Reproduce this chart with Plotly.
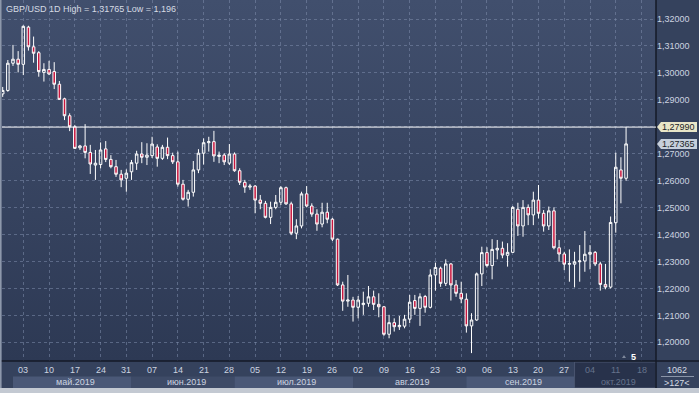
import base64
import pandas as pd
import plotly.graph_objects as go

# ---------------- data (GBP/USD daily) ----------------
start_date = "2019-04-29"
end_date = "2019-10-15"
axis_end_date = "2019-10-25"

open_ = [1.2922, 1.2935, 1.3036, 1.3051, 1.3032, 1.3170, 1.3097, 1.3075, 1.3002, 1.3013,
         1.3005, 1.2958, 1.2904, 1.2841, 1.2800, 1.2722, 1.2729, 1.2705, 1.2658, 1.2660,
         1.2718, 1.2679, 1.2652, 1.2624, 1.2609, 1.2633, 1.2665, 1.2699, 1.2687, 1.2693,
         1.2725, 1.2683, 1.2724, 1.2693, 1.2670, 1.2587, 1.2531, 1.2557, 1.2640, 1.2702,
         1.2741, 1.2745, 1.2690, 1.2695, 1.2665, 1.2699, 1.2637, 1.2594, 1.2576, 1.2580,
         1.2528, 1.2516, 1.2464, 1.2501, 1.2520, 1.2574, 1.2514, 1.2405, 1.2432, 1.2551,
         1.2506, 1.2476, 1.2439, 1.2483, 1.2457, 1.2383, 1.2213, 1.2153, 1.2157, 1.2130,
         1.2140, 1.2145, 1.2169, 1.2141, 1.2132, 1.2030, 1.2073, 1.2058, 1.2060, 1.2086,
         1.2155, 1.2126, 1.2170, 1.2130, 1.2250, 1.2275, 1.2219, 1.2291, 1.2213, 1.2182,
         1.2160, 1.2061, 1.2083, 1.2254, 1.2333, 1.2285, 1.2343, 1.2349, 1.2323, 1.2334,
         1.2494, 1.2432, 1.2501, 1.2473, 1.2528, 1.2479, 1.2432, 1.2488, 1.2351, 1.2328,
         1.2290, 1.2290, 1.2299, 1.2302, 1.2327, 1.2334, 1.2291, 1.2215, 1.2205, 1.2444,
         1.2640, 1.2609]
high = [1.2948, 1.3048, 1.3104, 1.3081, 1.31765, 1.3175, 1.3135, 1.3081, 1.3036, 1.3045,
        1.3040, 1.2970, 1.2908, 1.2850, 1.2807, 1.2733, 1.2810, 1.2733, 1.2714, 1.2742,
        1.2747, 1.2695, 1.2677, 1.2640, 1.2642, 1.2677, 1.2711, 1.2743, 1.2739, 1.2763,
        1.2735, 1.2733, 1.2760, 1.2704, 1.2708, 1.2603, 1.2566, 1.2673, 1.2717, 1.2757,
        1.2763, 1.2785, 1.2708, 1.2702, 1.2736, 1.2705, 1.2646, 1.2603, 1.2588, 1.2584,
        1.2547, 1.2525, 1.2522, 1.2547, 1.2580, 1.2578, 1.2522, 1.2457, 1.2559, 1.2580,
        1.2516, 1.2494, 1.2518, 1.2518, 1.2462, 1.2385, 1.2225, 1.2250, 1.2169, 1.2172,
        1.2188, 1.2209, 1.2192, 1.2182, 1.2135, 1.2102, 1.2089, 1.2098, 1.2102, 1.2176,
        1.2176, 1.2182, 1.2176, 1.2271, 1.2296, 1.2281, 1.2308, 1.2294, 1.2231, 1.2225,
        1.2182, 1.2108, 1.2259, 1.2355, 1.2353, 1.2383, 1.2380, 1.2374, 1.2368, 1.2506,
        1.2518, 1.2528, 1.2512, 1.2559, 1.2584, 1.2491, 1.2504, 1.2501, 1.2380, 1.2336,
        1.2345, 1.2336, 1.2361, 1.2413, 1.2361, 1.2339, 1.2299, 1.2291, 1.2467, 1.2704,
        1.2687, 1.2799]
low = [1.2911, 1.2930, 1.3026, 1.3002, 1.2992, 1.3083, 1.3038, 1.2986, 1.2968, 1.2992,
       1.2940, 1.2900, 1.2825, 1.2784, 1.2718, 1.2714, 1.2683, 1.2625, 1.2603, 1.2646,
       1.2669, 1.2646, 1.2614, 1.2576, 1.2559, 1.2603, 1.2640, 1.2665, 1.2658, 1.2684,
       1.2652, 1.2677, 1.2680, 1.2662, 1.2578, 1.2526, 1.2504, 1.2541, 1.2628, 1.2660,
       1.2708, 1.2670, 1.2665, 1.2658, 1.2658, 1.2633, 1.2584, 1.2555, 1.2566, 1.2479,
       1.2494, 1.2460, 1.2439, 1.2494, 1.2510, 1.2510, 1.2398, 1.2383, 1.2423, 1.2501,
       1.2466, 1.2414, 1.2427, 1.2442, 1.2376, 1.2209, 1.2117, 1.2132, 1.2077, 1.2089,
       1.2102, 1.2132, 1.2120, 1.2093, 1.2024, 1.2015, 1.2040, 1.2046, 1.2052, 1.2071,
       1.2102, 1.2061, 1.2110, 1.2126, 1.2192, 1.2206, 1.2209, 1.2155, 1.2169, 1.2145,
       1.2036, 1.1960, 1.2080, 1.2209, 1.2278, 1.2234, 1.2308, 1.2312, 1.2281, 1.2332,
       1.2395, 1.2392, 1.2435, 1.2435, 1.2460, 1.2411, 1.2417, 1.2345, 1.2299, 1.2268,
       1.2225, 1.2204, 1.2225, 1.2262, 1.2271, 1.2283, 1.2192, 1.2197, 1.2200, 1.2407,
       1.2516, 1.2600]
close = [1.2935, 1.3036, 1.3051, 1.3032, 1.3173, 1.3097, 1.3073, 1.3005, 1.3013, 1.2996,
         1.2958, 1.2902, 1.2841, 1.2800, 1.2720, 1.2729, 1.2705, 1.2662, 1.2665, 1.2714,
         1.2679, 1.2652, 1.2624, 1.2603, 1.2628, 1.2667, 1.2699, 1.2687, 1.2695, 1.2736,
         1.2683, 1.2724, 1.2693, 1.2670, 1.2587, 1.2531, 1.2557, 1.2640, 1.2702, 1.2741,
         1.2745, 1.2692, 1.2695, 1.2670, 1.2699, 1.2637, 1.2594, 1.2576, 1.2580, 1.2528,
         1.2516, 1.2464, 1.2501, 1.2520, 1.2574, 1.2514, 1.2405, 1.2432, 1.2551, 1.2506,
         1.2476, 1.2439, 1.2483, 1.2457, 1.2383, 1.2213, 1.2153, 1.2157, 1.2130, 1.2157,
         1.2145, 1.2169, 1.2141, 1.2132, 1.2030, 1.2073, 1.2058, 1.2063, 1.2086, 1.2149,
         1.2126, 1.2169, 1.2130, 1.2250, 1.2278, 1.2219, 1.2291, 1.2213, 1.2182, 1.2161,
         1.2061, 1.2083, 1.2254, 1.2333, 1.2285, 1.2345, 1.2349, 1.2324, 1.2334, 1.2501,
         1.2432, 1.2501, 1.2473, 1.2528, 1.2479, 1.2432, 1.2488, 1.2351, 1.2328, 1.2290,
         1.2292, 1.2299, 1.2302, 1.2327, 1.2334, 1.2291, 1.2215, 1.2205, 1.2445, 1.2650,
         1.2609, 1.27365]

title_text = "GBP/USD 1D High = 1,31765 Low = 1,196"
month_names = {5: "май.2019", 6: "июн.2019", 7: "июл.2019",
               8: "авг.2019", 9: "сен.2019", 10: "окт.2019"}
price_ticks = [1.20, 1.21, 1.22, 1.23, 1.24, 1.25, 1.26, 1.27, 1.28, 1.29, 1.30, 1.31, 1.32]
hidden_ticks = [1.28]          # covered by the level tag in the original
level_line = 1.27990          # horizontal level
last_price = 1.27365          # current price tag
counter_top = "1062"
counter_bottom = ">127<"
marker_text = "5"

# ---------------- geometry / style ----------------
W, H = 699, 393
ML, MR, MT, MB = 2, 43, 0, 32
PW, PH = W - ML - MR, H - MT - MB
X_RANGE = [-0.134, 126.81]
Y_RANGE = [1.19307, 1.32707]
FRAME = 27  # px from plot bottom to the light window frame

FONT = "Liberation Sans, Arial, sans-serif"
TXT = "#ccd4e0"
DIM = "#66728c"
GRID = "rgba(125,140,172,0.55)"

dates = pd.bdate_range(start_date, end_date)
axis_dates = pd.bdate_range(start_date, axis_end_date)
x = list(range(len(dates)))

fig = go.Figure(go.Candlestick(
    x=x, open=open_, high=high, low=low, close=close,
    increasing=dict(line=dict(color="#ffffff", width=1), fillcolor="rgba(0,0,0,0)"),
    decreasing=dict(line=dict(color="#ffffff", width=1), fillcolor="#c8163e"),
    whiskerwidth=0, hoverinfo="skip", showlegend=False,
))

fri_idx = [i for i, d in enumerate(axis_dates) if d.weekday() == 4 and i <= X_RANGE[1]]
tick_text = ["" if v in hidden_ticks else f"{v:.5f}".replace(".", ",") for v in price_ticks]

svg = ("<svg xmlns='http://www.w3.org/2000/svg' width='10' height='100' viewBox='0 0 10 100' "
       "preserveAspectRatio='none'><defs><linearGradient id='g' x1='0' y1='0' x2='0' y2='1'>"
       "<stop offset='0' stop-color='#414f6d'/><stop offset='1' stop-color='#2d3954'/>"
       "</linearGradient></defs><rect width='10' height='100' fill='url(#g)'/></svg>")
bg_src = "data:image/svg+xml;base64," + base64.b64encode(svg.encode()).decode()

shapes = []
annotations = []

# bottom axis panel
shapes.append(dict(type="rect", xref="paper", yref="paper", x0=-ML / PW, x1=1 + MR / PW,
                   y0=0, y1=-FRAME / PH, fillcolor="#35425d", line_width=0, layer="below"))
# month bands
month_first = {}
for i, d in enumerate(axis_dates):
    if d.month not in month_first:
        month_first[d.month] = i
months = [m for m in sorted(month_first) if m in month_names]
for k, m in enumerate(months):
    x0 = month_first[m]
    x1 = month_first[months[k + 1]] if k + 1 < len(months) else X_RANGE[1]
    if m == 10:
        shapes.append(dict(type="rect", xref="x", yref="paper", ysizemode="pixel", yanchor=0,
                           x0=x0, x1=x1, y0=-1, y1=-FRAME, fillcolor="#28324b",
                           line=dict(color="#4a5570", width=1), layer="above"))
        col = DIM
    else:
        shapes.append(dict(type="rect", xref="x", yref="paper", ysizemode="pixel", yanchor=0,
                           x0=x0, x1=x1, y0=-15.5, y1=-FRAME,
                           fillcolor="#4a5877" if m % 2 == 1 else "#3e4b67",
                           line_width=0, layer="above"))
        col = TXT
    annotations.append(dict(text=month_names[m], x=(x0 + x1) / 2, xref="x", y=0, yref="paper",
                            yanchor="middle", yshift=-21, xshift=3, showarrow=False,
                            font=dict(size=9, color=col, family=FONT)))

# day labels
for i in fri_idx:
    d = axis_dates[i]
    future = d.month == 10
    annotations.append(dict(text=f"{d.day:02d}", x=i, xref="x", y=0, yref="paper",
                            yanchor="middle", yshift=-9, showarrow=False,
                            font=dict(size=9, color=DIM if future else TXT, family=FONT)))

# separators
shapes.append(dict(type="line", xref="paper", yref="paper", x0=-ML / PW, x1=1 + MR / PW,
                   y0=0, y1=0, line=dict(color="#141a27", width=1.5)))
shapes.append(dict(type="line", xref="paper", yref="paper", x0=1, x1=1,
                   y0=1, y1=-FRAME / PH, line=dict(color="#141a27", width=1.5)))
# window frame (bottom strip, left strip)
shapes.append(dict(type="rect", xref="paper", yref="paper", x0=-ML / PW, x1=1 + MR / PW,
                   y0=-FRAME / PH, y1=-MB / PH - 0.01, fillcolor="#c3c9d2", line_width=0))
shapes.append(dict(type="rect", xref="paper", yref="paper", x0=-ML / PW, x1=-0.4 / PW,
                   y0=-FRAME / PH, y1=1, fillcolor="#8d98ab", line_width=0))

# horizontal level line
shapes.append(dict(type="line", xref="paper", yref="y", x0=0, x1=1, y0=level_line, y1=level_line,
                   line=dict(color="#ffffff", width=1)))

# price tags on the right scale
for val, col in [(level_line, "#e9e6c8"), (last_price, "#c6cfdb")]:
    shapes.append(dict(type="path", xref="paper", xsizemode="pixel", xanchor=1,
                       yref="y", ysizemode="pixel", yanchor=val,
                       path="M 1 0 L 5 5 L 41 5 L 41 -5 L 5 -5 Z",
                       fillcolor=col, line_width=0))
    annotations.append(dict(text=f"{val:.5f}".replace(".", ","), xref="paper", x=1, xshift=4,
                            xanchor="left", yref="y", y=val, yanchor="middle", showarrow=False,
                            font=dict(size=9, color="#1b1f27", family=FONT)))

# title
annotations.append(dict(text=title_text, xref="paper", x=0, xanchor="left", xshift=2,
                        yref="paper", y=1, yanchor="top", yshift=-2, showarrow=False,
                        font=dict(size=9, color="#d6dbe4", family=FONT)))
# marker text with small grey triangle
annotations.append(dict(text=f"<b>{marker_text}</b>", xref="paper", x=1, xshift=-23, xanchor="center",
                        yref="paper", y=0, yanchor="middle", yshift=4, showarrow=False,
                        font=dict(size=9, color="#ffffff", family=FONT)))
shapes.append(dict(type="path", xref="paper", xsizemode="pixel", xanchor=1,
                   yref="paper", ysizemode="pixel", yanchor=0,
                   path="M -34 3 L -30 3 L -32 6 Z", fillcolor="#7d879a", line_width=0))
# counter box
annotations.append(dict(text=counter_top, xref="paper", x=1 + 21.5 / PW, xanchor="center",
                        yref="paper", y=0, yanchor="middle", yshift=-9, showarrow=False,
                        font=dict(size=9, color="#d6dbe4", family=FONT)))
annotations.append(dict(text=counter_bottom, xref="paper", x=1 + 21.5 / PW, xanchor="center",
                        yref="paper", y=0, yanchor="middle", yshift=-22, showarrow=False,
                        font=dict(size=9, color="#d6dbe4", family=FONT)))
shapes.append(dict(type="line", xref="paper", yref="paper", x0=1 + 5 / PW, x1=1 + 38 / PW,
                   y0=-15.5 / PH, y1=-15.5 / PH, line=dict(color="#8a95a8", width=1)))

fig.update_layout(
    width=W, height=H, margin=dict(l=ML, r=MR, t=MT, b=MB, pad=0),
    paper_bgcolor="#35425d", plot_bgcolor="rgba(0,0,0,0)",
    font=dict(family=FONT, size=9, color=TXT), showlegend=False,
    images=[dict(source=bg_src, xref="paper", yref="paper", x=0, y=1, sizex=1, sizey=1,
                 sizing="stretch", layer="below", xanchor="left", yanchor="top")],
    shapes=shapes, annotations=annotations,
    xaxis=dict(range=X_RANGE, rangeslider=dict(visible=False), tickvals=fri_idx,
               showticklabels=False, ticks="", showgrid=True, gridcolor=GRID, gridwidth=1,
               griddash="3px,3px", zeroline=False, showline=False, fixedrange=True),
    yaxis=dict(range=Y_RANGE, side="right", tickvals=price_ticks, ticktext=tick_text,
               ticks="", showgrid=True, gridcolor=GRID, gridwidth=1, griddash="3px,3px",
               zeroline=False, showline=False, tickfont=dict(size=9, color=TXT, family=FONT),
               fixedrange=True),
)

fig.write_html("out.html", config={"displayModeBar": False},
               post_script="document.body.style.margin='0';document.body.style.padding='0';")
